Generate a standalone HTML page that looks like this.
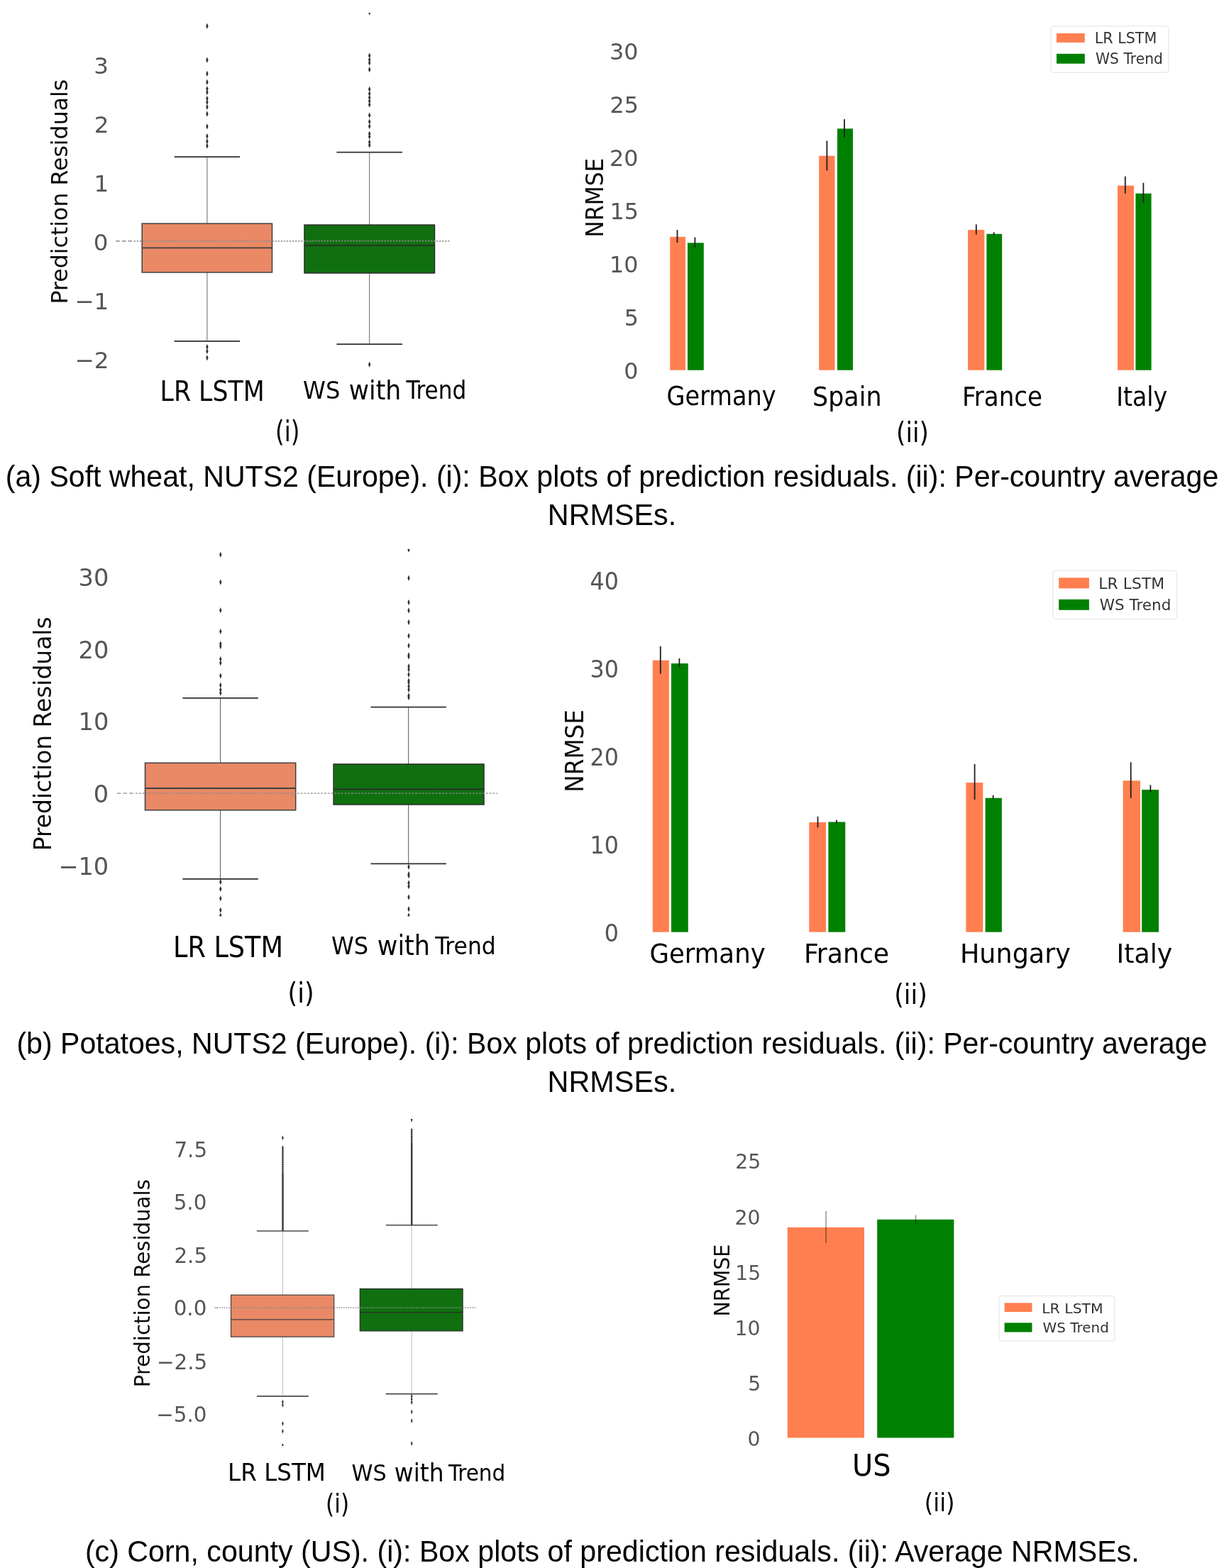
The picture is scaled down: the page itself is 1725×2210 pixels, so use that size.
<!DOCTYPE html>
<html><head><meta charset="utf-8"><title>Figure</title>
<style>
html,body{margin:0;padding:0;background:#fff;}
body{width:1725px;height:2210px;overflow:hidden;}
svg{display:block;}
</style></head><body>
<svg width="1725" height="2210" viewBox="0 0 1725 2210">
<rect width="1725" height="2210" fill="#fff"/>
<defs>
<clipPath id="ca"><rect x="150" y="17.9" width="500" height="501"/></clipPath>
<clipPath id="cb"><rect x="150" y="773.8" width="560" height="517.7"/></clipPath>
<clipPath id="cc"><rect x="290" y="1577" width="400" height="461"/></clipPath>
</defs>
<text x="132.30" y="104.00" font-family='"DejaVu Sans", sans-serif' font-size="32.60" fill="#555555">3</text>
<text x="132.80" y="186.90" font-family='"DejaVu Sans", sans-serif' font-size="32.60" fill="#555555">2</text>
<text x="132.55" y="269.80" font-family='"DejaVu Sans", sans-serif' font-size="32.60" fill="#555555">1</text>
<text x="131.80" y="352.70" font-family='"DejaVu Sans", sans-serif' font-size="32.60" fill="#555555">0</text>
<text x="105.30" y="435.60" font-family='"DejaVu Sans", sans-serif' font-size="32.60" fill="#555555">−1</text>
<text x="105.55" y="518.50" font-family='"DejaVu Sans", sans-serif' font-size="32.60" fill="#555555">−2</text>
<text transform="translate(94.60 428.48) rotate(-90)" x="0" y="0" font-family='"DejaVu Sans", sans-serif' font-size="31.80" fill="#0a0a0a" textLength="316.72" lengthAdjust="spacingAndGlyphs">Prediction Residuals</text>
<line x1="291.90" y1="221.10" x2="291.90" y2="315.10" stroke="#666" stroke-width="1.00"/>
<line x1="291.90" y1="383.90" x2="291.90" y2="480.90" stroke="#666" stroke-width="1.00"/>
<line x1="245.70" y1="221.10" x2="338.10" y2="221.10" stroke="#2e2e2e" stroke-width="1.80"/>
<line x1="245.70" y1="480.90" x2="338.10" y2="480.90" stroke="#2e2e2e" stroke-width="1.80"/>
<line x1="520.70" y1="214.70" x2="520.70" y2="317.00" stroke="#666" stroke-width="1.00"/>
<line x1="520.70" y1="384.90" x2="520.70" y2="485.10" stroke="#666" stroke-width="1.00"/>
<line x1="474.40" y1="214.70" x2="567.00" y2="214.70" stroke="#2e2e2e" stroke-width="1.80"/>
<line x1="474.40" y1="485.10" x2="567.00" y2="485.10" stroke="#2e2e2e" stroke-width="1.80"/>
<rect x="200.20" y="315.10" width="183.30" height="68.80" fill="#e98966" stroke="#3f3f3f" stroke-width="1.50"/>
<line x1="200.20" y1="349.30" x2="383.50" y2="349.30" stroke="#3f3f3f" stroke-width="1.80"/>
<rect x="429.00" y="317.00" width="183.50" height="67.90" fill="#107010" stroke="#2b2b2b" stroke-width="1.50"/>
<line x1="429.00" y1="345.90" x2="612.50" y2="345.90" stroke="#2b2b2b" stroke-width="1.80"/>
<path d="M291.90 32.55L293.60 36.80L291.90 41.05L290.20 36.80ZM291.90 80.15L293.60 84.40L291.90 88.65L290.20 84.40ZM291.90 99.45L293.60 103.70L291.90 107.95L290.20 103.70ZM291.90 111.45L293.60 115.70L291.90 119.95L290.20 115.70ZM291.90 121.05L293.60 125.30L291.90 129.55L290.20 125.30ZM291.90 125.85L293.60 130.10L291.90 134.35L290.20 130.10ZM291.90 134.75L293.60 139.00L291.90 143.25L290.20 139.00ZM291.90 139.75L293.60 144.00L291.90 148.25L290.20 144.00ZM291.90 146.55L293.60 150.80L291.90 155.05L290.20 150.80ZM291.90 156.15L293.60 160.40L291.90 164.65L290.20 160.40ZM291.90 173.95L293.60 178.20L291.90 182.45L290.20 178.20ZM291.90 187.85L293.60 192.10L291.90 196.35L290.20 192.10ZM291.90 195.05L293.60 199.30L291.90 203.55L290.20 199.30ZM291.90 201.35L293.60 205.60L291.90 209.85L290.20 205.60ZM291.90 484.65L293.60 488.90L291.90 493.15L290.20 488.90ZM291.90 490.65L293.60 494.90L291.90 499.15L290.20 494.90ZM291.90 500.05L293.60 504.30L291.90 508.55L290.20 504.30Z" fill="#333" clip-path="url(#ca)"/>
<path d="M520.70 13.25L522.40 17.50L520.70 21.75L519.00 17.50ZM520.70 74.15L522.40 78.40L520.70 82.65L519.00 78.40ZM520.70 79.95L522.40 84.20L520.70 88.45L519.00 84.20ZM520.70 84.15L522.40 88.40L520.70 92.65L519.00 88.40ZM520.70 93.65L522.40 97.90L520.70 102.15L519.00 97.90ZM520.70 121.55L522.40 125.80L520.70 130.05L519.00 125.80ZM520.70 127.85L522.40 132.10L520.70 136.35L519.00 132.10ZM520.70 133.15L522.40 137.40L520.70 141.65L519.00 137.40ZM520.70 138.35L522.40 142.60L520.70 146.85L519.00 142.60ZM520.70 143.15L522.40 147.40L520.70 151.65L519.00 147.40ZM520.70 158.35L522.40 162.60L520.70 166.85L519.00 162.60ZM520.70 167.35L522.40 171.60L520.70 175.85L519.00 171.60ZM520.70 173.65L522.40 177.90L520.70 182.15L519.00 177.90ZM520.70 184.15L522.40 188.40L520.70 192.65L519.00 188.40ZM520.70 188.35L522.40 192.60L520.70 196.85L519.00 192.60ZM520.70 196.35L522.40 200.60L520.70 204.85L519.00 200.60ZM520.70 200.25L522.40 204.50L520.70 208.75L519.00 204.50ZM520.70 509.55L522.40 513.80L520.70 518.05L519.00 513.80Z" fill="#333" clip-path="url(#ca)"/>
<line x1="163.10" y1="339.70" x2="188.60" y2="339.70" stroke="#8c8c8c" stroke-width="1.45" stroke-dasharray="5.80 2.80"/>
<line x1="188.60" y1="339.70" x2="635.00" y2="339.70" stroke="#8c8c8c" stroke-width="1.45" stroke-dasharray="2.40 1.66"/>
<text x="225.54" y="565.10" font-family='"DejaVu Sans Condensed", "DejaVu Sans", sans-serif' font-size="38.45" fill="#000" style="font-stretch:condensed;" textLength="147.20" lengthAdjust="spacingAndGlyphs">LR LSTM</text>
<text x="427.05" y="561.80" font-family='"DejaVu Sans Condensed", "DejaVu Sans", sans-serif' font-size="34.15" fill="#000" style="font-stretch:condensed;" textLength="52.31" lengthAdjust="spacingAndGlyphs">WS</text>
<text x="491.78" y="562.80" font-family='"DejaVu Sans Condensed", "DejaVu Sans", sans-serif' font-size="37.90" fill="#000" style="font-stretch:condensed;" textLength="73.49" lengthAdjust="spacingAndGlyphs">with</text>
<text x="572.50" y="561.80" font-family='"DejaVu Sans Condensed", "DejaVu Sans", sans-serif' font-size="34.62" fill="#000" style="font-stretch:condensed;" textLength="84.73" lengthAdjust="spacingAndGlyphs">Trend</text>
<text x="388.07" y="622.44" font-family='"DejaVu Sans Condensed", "DejaVu Sans", sans-serif' font-size="41.62" fill="#000" style="font-stretch:condensed;" textLength="34.46" lengthAdjust="spacingAndGlyphs">(i)</text>
<text x="859.05" y="84.10" font-family='"DejaVu Sans", sans-serif' font-size="31.80" fill="#555555">30</text>
<text x="859.55" y="159.00" font-family='"DejaVu Sans", sans-serif' font-size="31.80" fill="#555555">25</text>
<text x="859.05" y="233.90" font-family='"DejaVu Sans", sans-serif' font-size="31.80" fill="#555555">20</text>
<text x="859.55" y="308.80" font-family='"DejaVu Sans", sans-serif' font-size="31.80" fill="#555555">15</text>
<text x="859.05" y="383.70" font-family='"DejaVu Sans", sans-serif' font-size="31.80" fill="#555555">10</text>
<text x="879.80" y="458.60" font-family='"DejaVu Sans", sans-serif' font-size="31.80" fill="#555555">5</text>
<text x="879.30" y="533.50" font-family='"DejaVu Sans", sans-serif' font-size="31.80" fill="#555555">0</text>
<text transform="translate(850.40 334.54) rotate(-90)" x="0" y="0" font-family='"DejaVu Sans", sans-serif' font-size="33.50" fill="#0a0a0a" textLength="111.87" lengthAdjust="spacingAndGlyphs">NRMSE</text>
<rect x="944.20" y="333.80" width="21.80" height="187.90" fill="#ff7f50"/>
<rect x="969.00" y="342.30" width="22.80" height="179.40" fill="#008000"/>
<rect x="1154.20" y="219.60" width="22.30" height="302.10" fill="#ff7f50"/>
<rect x="1180.00" y="181.30" width="22.00" height="340.40" fill="#008000"/>
<rect x="1364.10" y="324.00" width="23.20" height="197.70" fill="#ff7f50"/>
<rect x="1390.40" y="329.70" width="21.80" height="192.00" fill="#008000"/>
<rect x="1575.00" y="261.60" width="23.00" height="260.10" fill="#ff7f50"/>
<rect x="1600.40" y="272.70" width="22.20" height="249.00" fill="#008000"/>
<line x1="954.50" y1="324.00" x2="954.50" y2="342.00" stroke="#1f1f1f" stroke-width="1.80"/>
<line x1="979.40" y1="334.50" x2="979.40" y2="349.00" stroke="#1f1f1f" stroke-width="1.80"/>
<line x1="1165.40" y1="198.40" x2="1165.40" y2="240.40" stroke="#1f1f1f" stroke-width="1.80"/>
<line x1="1190.00" y1="168.00" x2="1190.00" y2="193.80" stroke="#1f1f1f" stroke-width="1.80"/>
<line x1="1375.80" y1="316.30" x2="1375.80" y2="330.40" stroke="#1f1f1f" stroke-width="1.80"/>
<line x1="1400.70" y1="327.30" x2="1400.70" y2="331.50" stroke="#1f1f1f" stroke-width="1.80"/>
<line x1="1585.80" y1="248.70" x2="1585.80" y2="272.70" stroke="#1f1f1f" stroke-width="1.80"/>
<line x1="1611.40" y1="257.70" x2="1611.40" y2="285.60" stroke="#1f1f1f" stroke-width="1.80"/>
<text x="939.64" y="571.20" font-family='"DejaVu Sans Condensed", "DejaVu Sans", sans-serif' font-size="37.00" fill="#000" style="font-stretch:condensed;" textLength="154.01" lengthAdjust="spacingAndGlyphs">Germany</text>
<text x="1145.04" y="572.10" font-family='"DejaVu Sans Condensed", "DejaVu Sans", sans-serif' font-size="37.00" fill="#000" style="font-stretch:condensed;" textLength="97.46" lengthAdjust="spacingAndGlyphs">Spain</text>
<text x="1355.97" y="572.10" font-family='"DejaVu Sans Condensed", "DejaVu Sans", sans-serif' font-size="37.00" fill="#000" style="font-stretch:condensed;" textLength="113.04" lengthAdjust="spacingAndGlyphs">France</text>
<text x="1573.15" y="572.10" font-family='"DejaVu Sans Condensed", "DejaVu Sans", sans-serif' font-size="37.00" fill="#000" style="font-stretch:condensed;" textLength="72.09" lengthAdjust="spacingAndGlyphs">Italy</text>
<text x="1263.11" y="623.23" font-family='"DejaVu Sans Condensed", "DejaVu Sans", sans-serif' font-size="39.38" fill="#000" style="font-stretch:condensed;" textLength="45.82" lengthAdjust="spacingAndGlyphs">(ii)</text>
<rect x="1481.00" y="36.90" width="166.00" height="65.20" rx="4" ry="4" fill="#fff" stroke="#e8e8e8" stroke-width="1.3"/>
<rect x="1489.00" y="47.00" width="39.80" height="12.90" fill="#ff7f50"/>
<rect x="1489.00" y="75.80" width="39.80" height="13.90" fill="#008000"/>
<text x="1542.78" y="61.00" font-family='"DejaVu Sans", sans-serif' font-size="20.40" fill="#333333" textLength="87.56" lengthAdjust="spacingAndGlyphs">LR LSTM</text>
<text x="1544.06" y="89.70" font-family='"DejaVu Sans", sans-serif' font-size="20.40" fill="#333333" textLength="94.78" lengthAdjust="spacingAndGlyphs">WS Trend</text>
<text x="7.80" y="686.40" font-family='"Liberation Sans", Arial, sans-serif' font-size="42.80" fill="#000" textLength="1709.51" lengthAdjust="spacingAndGlyphs">(a) Soft wheat, NUTS2 (Europe). (i): Box plots of prediction residuals. (ii): Per-country average</text>
<text x="771.82" y="740.30" font-family='"Liberation Sans", Arial, sans-serif' font-size="42.80" fill="#000" textLength="181.44" lengthAdjust="spacingAndGlyphs">NRMSEs.</text>
<text x="110.55" y="826.10" font-family='"DejaVu Sans", sans-serif' font-size="33.60" fill="#555555">30</text>
<text x="110.55" y="927.70" font-family='"DejaVu Sans", sans-serif' font-size="33.60" fill="#555555">20</text>
<text x="110.55" y="1029.30" font-family='"DejaVu Sans", sans-serif' font-size="33.60" fill="#555555">10</text>
<text x="131.80" y="1130.90" font-family='"DejaVu Sans", sans-serif' font-size="33.60" fill="#555555">0</text>
<text x="82.30" y="1232.50" font-family='"DejaVu Sans", sans-serif' font-size="33.60" fill="#555555">−10</text>
<text transform="translate(72.30 1199.21) rotate(-90)" x="0" y="0" font-family='"DejaVu Sans", sans-serif' font-size="33.20" fill="#0a0a0a" textLength="329.79" lengthAdjust="spacingAndGlyphs">Prediction Residuals</text>
<line x1="310.60" y1="983.80" x2="310.60" y2="1075.30" stroke="#555" stroke-width="1.00"/>
<line x1="310.60" y1="1141.80" x2="310.60" y2="1238.90" stroke="#555" stroke-width="1.00"/>
<line x1="257.40" y1="983.80" x2="363.80" y2="983.80" stroke="#2e2e2e" stroke-width="1.80"/>
<line x1="257.40" y1="1238.90" x2="363.80" y2="1238.90" stroke="#2e2e2e" stroke-width="1.80"/>
<line x1="575.70" y1="996.70" x2="575.70" y2="1077.00" stroke="#555" stroke-width="1.00"/>
<line x1="575.70" y1="1134.00" x2="575.70" y2="1217.40" stroke="#555" stroke-width="1.00"/>
<line x1="522.50" y1="996.70" x2="628.90" y2="996.70" stroke="#2e2e2e" stroke-width="1.80"/>
<line x1="522.50" y1="1217.40" x2="628.90" y2="1217.40" stroke="#2e2e2e" stroke-width="1.80"/>
<rect x="204.50" y="1075.30" width="212.20" height="66.50" fill="#e98966" stroke="#3f3f3f" stroke-width="1.50"/>
<line x1="204.50" y1="1111.00" x2="416.70" y2="1111.00" stroke="#3f3f3f" stroke-width="1.80"/>
<rect x="470.10" y="1077.00" width="211.90" height="57.00" fill="#107010" stroke="#2b2b2b" stroke-width="1.50"/>
<line x1="470.10" y1="1112.30" x2="682.00" y2="1112.30" stroke="#2b2b2b" stroke-width="1.80"/>
<path d="M310.80 777.45L312.45 781.70L310.80 785.95L309.15 781.70ZM310.80 816.35L312.45 820.60L310.80 824.85L309.15 820.60ZM310.80 855.95L312.45 860.20L310.80 864.45L309.15 860.20ZM310.80 885.65L312.45 889.90L310.80 894.15L309.15 889.90ZM310.80 903.25L312.45 907.50L310.80 911.75L309.15 907.50ZM310.80 906.75L312.45 911.00L310.80 915.25L309.15 911.00ZM310.80 924.85L312.45 929.10L310.80 933.35L309.15 929.10ZM310.80 930.05L312.45 934.30L310.80 938.55L309.15 934.30ZM310.80 948.35L312.45 952.60L310.80 956.85L309.15 952.60ZM310.80 961.45L312.45 965.70L310.80 969.95L309.15 965.70ZM310.80 968.05L312.45 972.30L310.80 976.55L309.15 972.30ZM310.80 972.45L312.45 976.70L310.80 980.95L309.15 976.70ZM310.80 1238.75L312.45 1243.00L310.80 1247.25L309.15 1243.00ZM310.80 1248.85L312.45 1253.10L310.80 1257.35L309.15 1253.10ZM310.80 1262.05L312.45 1266.30L310.80 1270.55L309.15 1266.30ZM310.80 1278.55L312.45 1282.80L310.80 1287.05L309.15 1282.80ZM310.80 1286.35L312.45 1290.60L310.80 1294.85L309.15 1290.60Z" fill="#333" clip-path="url(#cb)"/>
<path d="M576.00 770.25L577.65 774.50L576.00 778.75L574.35 774.50ZM576.00 810.45L577.65 814.70L576.00 818.95L574.35 814.70ZM576.00 844.85L577.65 849.10L576.00 853.35L574.35 849.10ZM576.00 856.35L577.65 860.60L576.00 864.85L574.35 860.60ZM576.00 872.85L577.65 877.10L576.00 881.35L574.35 877.10ZM576.00 892.05L577.65 896.30L576.00 900.55L574.35 896.30ZM576.00 905.75L577.65 910.00L576.00 914.25L574.35 910.00ZM576.00 918.95L577.65 923.20L576.00 927.45L574.35 923.20ZM576.00 921.25L577.65 925.50L576.00 929.75L574.35 925.50ZM576.00 934.95L577.65 939.20L576.00 943.45L574.35 939.20ZM576.00 939.35L577.65 943.60L576.00 947.85L574.35 943.60ZM576.00 946.45L577.65 950.70L576.00 954.95L574.35 950.70ZM576.00 955.25L577.65 959.50L576.00 963.75L574.35 959.50ZM576.00 957.45L577.65 961.70L576.00 965.95L574.35 961.70ZM576.00 962.95L577.65 967.20L576.00 971.45L574.35 967.20ZM576.00 967.85L577.65 972.10L576.00 976.35L574.35 972.10ZM576.00 976.15L577.65 980.40L576.00 984.65L574.35 980.40ZM576.00 978.85L577.65 983.10L576.00 987.35L574.35 983.10ZM576.00 1217.45L577.65 1221.70L576.00 1225.95L574.35 1221.70ZM576.00 1227.75L577.65 1232.00L576.00 1236.25L574.35 1232.00ZM576.00 1230.05L577.65 1234.30L576.00 1238.55L574.35 1234.30ZM576.00 1240.35L577.65 1244.60L576.00 1248.85L574.35 1244.60ZM576.00 1244.95L577.65 1249.20L576.00 1253.45L574.35 1249.20ZM576.00 1260.25L577.65 1264.50L576.00 1268.75L574.35 1264.50ZM576.00 1276.95L577.65 1281.20L576.00 1285.45L574.35 1281.20ZM576.00 1286.35L577.65 1290.60L576.00 1294.85L574.35 1290.60Z" fill="#333" clip-path="url(#cb)"/>
<line x1="164.70" y1="1118.10" x2="191.00" y2="1118.10" stroke="#8c8c8c" stroke-width="1.45" stroke-dasharray="5.60 3.20"/>
<line x1="191.00" y1="1118.10" x2="701.30" y2="1118.10" stroke="#8c8c8c" stroke-width="1.45" stroke-dasharray="2.90 1.85"/>
<text x="244.06" y="1349.20" font-family='"DejaVu Sans Condensed", "DejaVu Sans", sans-serif' font-size="40.34" fill="#000" style="font-stretch:condensed;" textLength="154.96" lengthAdjust="spacingAndGlyphs">LR LSTM</text>
<text x="467.05" y="1345.20" font-family='"DejaVu Sans Condensed", "DejaVu Sans", sans-serif' font-size="33.88" fill="#000" style="font-stretch:condensed;" textLength="52.21" lengthAdjust="spacingAndGlyphs">WS</text>
<text x="531.78" y="1346.40" font-family='"DejaVu Sans Condensed", "DejaVu Sans", sans-serif' font-size="38.56" fill="#000" style="font-stretch:condensed;" textLength="74.23" lengthAdjust="spacingAndGlyphs">with</text>
<text x="613.20" y="1345.20" font-family='"DejaVu Sans Condensed", "DejaVu Sans", sans-serif' font-size="34.36" fill="#000" style="font-stretch:condensed;" textLength="85.71" lengthAdjust="spacingAndGlyphs">Trend</text>
<text x="405.46" y="1412.63" font-family='"DejaVu Sans Condensed", "DejaVu Sans", sans-serif' font-size="38.60" fill="#000" style="font-stretch:condensed;" textLength="37.19" lengthAdjust="spacingAndGlyphs">(i)</text>
<text x="831.56" y="830.60" font-family='"DejaVu Sans", sans-serif' font-size="33.00" fill="#555555" textLength="40.40" lengthAdjust="spacingAndGlyphs">40</text>
<text x="831.56" y="954.60" font-family='"DejaVu Sans", sans-serif' font-size="33.00" fill="#555555" textLength="40.40" lengthAdjust="spacingAndGlyphs">30</text>
<text x="831.56" y="1078.60" font-family='"DejaVu Sans", sans-serif' font-size="33.00" fill="#555555" textLength="40.40" lengthAdjust="spacingAndGlyphs">20</text>
<text x="831.56" y="1202.60" font-family='"DejaVu Sans", sans-serif' font-size="33.00" fill="#555555" textLength="40.40" lengthAdjust="spacingAndGlyphs">10</text>
<text x="851.76" y="1326.60" font-family='"DejaVu Sans", sans-serif' font-size="33.00" fill="#555555" textLength="20.20" lengthAdjust="spacingAndGlyphs">0</text>
<text transform="translate(821.60 1116.80) rotate(-90)" x="0" y="0" font-family='"DejaVu Sans", sans-serif' font-size="35.80" fill="#0a0a0a" textLength="116.85" lengthAdjust="spacingAndGlyphs">NRMSE</text>
<rect x="919.80" y="930.70" width="23.10" height="383.00" fill="#ff7f50"/>
<rect x="946.00" y="935.10" width="23.80" height="378.60" fill="#008000"/>
<rect x="1140.30" y="1159.00" width="23.80" height="154.70" fill="#ff7f50"/>
<rect x="1167.40" y="1158.50" width="23.90" height="155.20" fill="#008000"/>
<rect x="1361.40" y="1103.10" width="23.90" height="210.60" fill="#ff7f50"/>
<rect x="1388.60" y="1124.70" width="23.30" height="189.00" fill="#008000"/>
<rect x="1582.60" y="1100.30" width="24.40" height="213.40" fill="#ff7f50"/>
<rect x="1609.20" y="1113.10" width="23.80" height="200.60" fill="#008000"/>
<line x1="930.80" y1="910.80" x2="930.80" y2="949.60" stroke="#1f1f1f" stroke-width="1.80"/>
<line x1="957.40" y1="928.00" x2="957.40" y2="940.10" stroke="#1f1f1f" stroke-width="1.80"/>
<line x1="1152.50" y1="1150.80" x2="1152.50" y2="1166.30" stroke="#1f1f1f" stroke-width="1.80"/>
<line x1="1179.00" y1="1155.70" x2="1179.00" y2="1160.20" stroke="#1f1f1f" stroke-width="1.80"/>
<line x1="1373.60" y1="1077.00" x2="1373.60" y2="1127.00" stroke="#1f1f1f" stroke-width="1.80"/>
<line x1="1399.70" y1="1120.80" x2="1399.70" y2="1125.80" stroke="#1f1f1f" stroke-width="1.80"/>
<line x1="1593.70" y1="1074.30" x2="1593.70" y2="1124.70" stroke="#1f1f1f" stroke-width="1.80"/>
<line x1="1621.40" y1="1106.40" x2="1621.40" y2="1117.00" stroke="#1f1f1f" stroke-width="1.80"/>
<text x="915.42" y="1357.00" font-family='"DejaVu Sans Condensed", "DejaVu Sans", sans-serif' font-size="38.00" fill="#000" style="font-stretch:condensed;" textLength="163.29" lengthAdjust="spacingAndGlyphs">Germany</text>
<text x="1132.96" y="1357.00" font-family='"DejaVu Sans Condensed", "DejaVu Sans", sans-serif' font-size="38.00" fill="#000" style="font-stretch:condensed;" textLength="120.17" lengthAdjust="spacingAndGlyphs">France</text>
<text x="1352.93" y="1357.00" font-family='"DejaVu Sans Condensed", "DejaVu Sans", sans-serif' font-size="38.00" fill="#000" style="font-stretch:condensed;" textLength="155.83" lengthAdjust="spacingAndGlyphs">Hungary</text>
<text x="1573.55" y="1357.00" font-family='"DejaVu Sans Condensed", "DejaVu Sans", sans-serif' font-size="38.00" fill="#000" style="font-stretch:condensed;" textLength="78.70" lengthAdjust="spacingAndGlyphs">Italy</text>
<text x="1260.28" y="1414.55" font-family='"DejaVu Sans Condensed", "DejaVu Sans", sans-serif' font-size="38.49" fill="#000" style="font-stretch:condensed;" textLength="46.57" lengthAdjust="spacingAndGlyphs">(ii)</text>
<rect x="1483.90" y="804.30" width="174.60" height="68.20" rx="4" ry="4" fill="#fff" stroke="#e8e8e8" stroke-width="1.3"/>
<rect x="1492.20" y="814.30" width="42.70" height="15.00" fill="#ff7f50"/>
<rect x="1492.20" y="844.80" width="42.70" height="15.00" fill="#008000"/>
<text x="1548.36" y="830.00" font-family='"DejaVu Sans", sans-serif' font-size="21.60" fill="#333333" textLength="92.84" lengthAdjust="spacingAndGlyphs">LR LSTM</text>
<text x="1549.65" y="860.00" font-family='"DejaVu Sans", sans-serif' font-size="21.60" fill="#333333" textLength="100.68" lengthAdjust="spacingAndGlyphs">WS Trend</text>
<text x="23.40" y="1484.60" font-family='"Liberation Sans", Arial, sans-serif' font-size="42.80" fill="#000" textLength="1678.01" lengthAdjust="spacingAndGlyphs">(b) Potatoes, NUTS2 (Europe). (i): Box plots of prediction residuals. (ii): Per-country average</text>
<text x="771.51" y="1538.80" font-family='"Liberation Sans", Arial, sans-serif' font-size="42.80" fill="#000" textLength="181.76" lengthAdjust="spacingAndGlyphs">NRMSEs.</text>
<text x="245.43" y="1631.00" font-family='"DejaVu Sans", sans-serif' font-size="29.80" fill="#555555" textLength="46.70" lengthAdjust="spacingAndGlyphs">7.5</text>
<text x="244.69" y="1704.60" font-family='"DejaVu Sans", sans-serif' font-size="29.80" fill="#555555" textLength="46.70" lengthAdjust="spacingAndGlyphs">5.0</text>
<text x="245.43" y="1779.60" font-family='"DejaVu Sans", sans-serif' font-size="29.80" fill="#555555" textLength="46.70" lengthAdjust="spacingAndGlyphs">2.5</text>
<text x="244.69" y="1854.40" font-family='"DejaVu Sans", sans-serif' font-size="29.80" fill="#555555" textLength="46.70" lengthAdjust="spacingAndGlyphs">0.0</text>
<text x="221.00" y="1929.50" font-family='"DejaVu Sans", sans-serif' font-size="29.80" fill="#555555" textLength="71.30" lengthAdjust="spacingAndGlyphs">−2.5</text>
<text x="220.26" y="2004.30" font-family='"DejaVu Sans", sans-serif' font-size="29.80" fill="#555555" textLength="71.30" lengthAdjust="spacingAndGlyphs">−5.0</text>
<text transform="translate(210.60 1955.22) rotate(-90)" x="0" y="0" font-family='"DejaVu Sans", sans-serif' font-size="29.50" fill="#0a0a0a" textLength="293.09" lengthAdjust="spacingAndGlyphs">Prediction Residuals</text>
<line x1="398.40" y1="1735.00" x2="398.40" y2="1825.20" stroke="#bdbdbd" stroke-width="1.00"/>
<line x1="398.40" y1="1884.20" x2="398.40" y2="1967.90" stroke="#bdbdbd" stroke-width="1.00"/>
<line x1="361.90" y1="1735.00" x2="434.90" y2="1735.00" stroke="#4a4a4a" stroke-width="1.60"/>
<line x1="361.90" y1="1967.90" x2="434.90" y2="1967.90" stroke="#4a4a4a" stroke-width="1.60"/>
<line x1="580.20" y1="1726.70" x2="580.20" y2="1816.50" stroke="#bdbdbd" stroke-width="1.00"/>
<line x1="580.20" y1="1875.90" x2="580.20" y2="1964.60" stroke="#bdbdbd" stroke-width="1.00"/>
<line x1="543.70" y1="1726.70" x2="616.70" y2="1726.70" stroke="#4a4a4a" stroke-width="1.60"/>
<line x1="543.70" y1="1964.60" x2="616.70" y2="1964.60" stroke="#4a4a4a" stroke-width="1.60"/>
<rect x="325.50" y="1825.20" width="145.20" height="59.00" fill="#e98966" stroke="#3f3f3f" stroke-width="1.20"/>
<line x1="325.50" y1="1859.90" x2="470.70" y2="1859.90" stroke="#3f3f3f" stroke-width="1.44"/>
<rect x="507.30" y="1816.50" width="144.80" height="59.40" fill="#107010" stroke="#2b2b2b" stroke-width="1.20"/>
<line x1="507.30" y1="1849.60" x2="652.10" y2="1849.60" stroke="#2b2b2b" stroke-width="1.44"/>
<path d="M398.50 1614.25L399.90 1617.50L398.50 1620.75L397.10 1617.50ZM398.50 1617.25L399.90 1620.50L398.50 1623.75L397.10 1620.50ZM398.50 1620.25L399.90 1623.50L398.50 1626.75L397.10 1623.50ZM398.50 1623.25L399.90 1626.50L398.50 1629.75L397.10 1626.50ZM398.50 1626.25L399.90 1629.50L398.50 1632.75L397.10 1629.50ZM398.50 1629.25L399.90 1632.50L398.50 1635.75L397.10 1632.50ZM398.50 1632.25L399.90 1635.50L398.50 1638.75L397.10 1635.50ZM398.50 1635.25L399.90 1638.50L398.50 1641.75L397.10 1638.50ZM398.50 1638.25L399.90 1641.50L398.50 1644.75L397.10 1641.50ZM398.50 1641.25L399.90 1644.50L398.50 1647.75L397.10 1644.50ZM398.50 1644.25L399.90 1647.50L398.50 1650.75L397.10 1647.50ZM398.50 1647.25L399.90 1650.50L398.50 1653.75L397.10 1650.50ZM398.50 1650.25L399.90 1653.50L398.50 1656.75L397.10 1653.50Z" fill="#383838"/>
<rect x="397.30" y="1654.50" width="2.40" height="80.50" fill="#383838"/>
<path d="M580.20 1589.75L581.60 1593.00L580.20 1596.25L578.80 1593.00ZM580.20 1592.75L581.60 1596.00L580.20 1599.25L578.80 1596.00ZM580.20 1595.75L581.60 1599.00L580.20 1602.25L578.80 1599.00ZM580.20 1598.75L581.60 1602.00L580.20 1605.25L578.80 1602.00ZM580.20 1601.75L581.60 1605.00L580.20 1608.25L578.80 1605.00ZM580.20 1604.75L581.60 1608.00L580.20 1611.25L578.80 1608.00ZM580.20 1607.75L581.60 1611.00L580.20 1614.25L578.80 1611.00Z" fill="#383838"/>
<rect x="579.00" y="1612.00" width="2.40" height="114.70" fill="#383838"/>
<path d="M398.40 1600.30L399.70 1603.80L398.40 1607.30L397.10 1603.80ZM398.40 1972.60L399.70 1976.10L398.40 1979.60L397.10 1976.10ZM398.40 1976.70L399.70 1980.20L398.40 1983.70L397.10 1980.20ZM398.40 2003.00L399.70 2006.50L398.40 2010.00L397.10 2006.50ZM398.40 2013.70L399.70 2017.20L398.40 2020.70L397.10 2017.20ZM398.40 2034.00L399.70 2037.50L398.40 2041.00L397.10 2037.50Z" fill="#333" clip-path="url(#cc)"/>
<path d="M580.20 1574.70L581.50 1578.20L580.20 1581.70L578.90 1578.20ZM580.20 1964.50L581.50 1968.00L580.20 1971.50L578.90 1968.00ZM580.20 1968.50L581.50 1972.00L580.20 1975.50L578.90 1972.00ZM580.20 1973.00L581.50 1976.50L580.20 1980.00L578.90 1976.50ZM580.20 1986.60L581.50 1990.10L580.20 1993.60L578.90 1990.10ZM580.20 1998.90L581.50 2002.40L580.20 2005.90L578.90 2002.40ZM580.20 2030.90L581.50 2034.40L580.20 2037.90L578.90 2034.40Z" fill="#333" clip-path="url(#cc)"/>
<line x1="302.60" y1="1843.10" x2="309.00" y2="1843.10" stroke="#8a8a8a" stroke-width="1.25" stroke-dasharray="4.80 1.70"/>
<line x1="309.00" y1="1843.10" x2="670.80" y2="1843.10" stroke="#8a8a8a" stroke-width="1.25" stroke-dasharray="1.90 1.40"/>
<text x="321.14" y="2087.20" font-family='"DejaVu Sans Condensed", "DejaVu Sans", sans-serif' font-size="33.21" fill="#000" style="font-stretch:condensed;" textLength="137.84" lengthAdjust="spacingAndGlyphs">LR LSTM</text>
<text x="495.54" y="2087.30" font-family='"DejaVu Sans Condensed", "DejaVu Sans", sans-serif' font-size="31.73" fill="#000" style="font-stretch:condensed;" textLength="49.09" lengthAdjust="spacingAndGlyphs">WS</text>
<text x="555.80" y="2088.30" font-family='"DejaVu Sans Condensed", "DejaVu Sans", sans-serif' font-size="35.15" fill="#000" style="font-stretch:condensed;" textLength="69.72" lengthAdjust="spacingAndGlyphs">with</text>
<text x="632.00" y="2087.30" font-family='"DejaVu Sans Condensed", "DejaVu Sans", sans-serif' font-size="32.26" fill="#000" style="font-stretch:condensed;" textLength="80.37" lengthAdjust="spacingAndGlyphs">Trend</text>
<text x="459.11" y="2131.58" font-family='"DejaVu Sans Condensed", "DejaVu Sans", sans-serif' font-size="36.70" fill="#000" style="font-stretch:condensed;" textLength="33.02" lengthAdjust="spacingAndGlyphs">(i)</text>
<text x="1036.21" y="1647.40" font-family='"DejaVu Sans", sans-serif' font-size="28.80" fill="#555555" textLength="36.04" lengthAdjust="spacingAndGlyphs">25</text>
<text x="1035.47" y="1725.60" font-family='"DejaVu Sans", sans-serif' font-size="28.80" fill="#555555" textLength="36.04" lengthAdjust="spacingAndGlyphs">20</text>
<text x="1036.21" y="1803.80" font-family='"DejaVu Sans", sans-serif' font-size="28.80" fill="#555555" textLength="36.04" lengthAdjust="spacingAndGlyphs">15</text>
<text x="1035.47" y="1882.00" font-family='"DejaVu Sans", sans-serif' font-size="28.80" fill="#555555" textLength="36.04" lengthAdjust="spacingAndGlyphs">10</text>
<text x="1054.19" y="1960.20" font-family='"DejaVu Sans", sans-serif' font-size="28.80" fill="#555555" textLength="18.02" lengthAdjust="spacingAndGlyphs">5</text>
<text x="1053.45" y="2038.40" font-family='"DejaVu Sans", sans-serif' font-size="28.80" fill="#555555" textLength="18.02" lengthAdjust="spacingAndGlyphs">0</text>
<text transform="translate(1028.00 1855.46) rotate(-90)" x="0" y="0" font-family='"DejaVu Sans", sans-serif' font-size="30.90" fill="#0a0a0a" textLength="101.76" lengthAdjust="spacingAndGlyphs">NRMSE</text>
<rect x="1109.80" y="1729.90" width="108.20" height="296.60" fill="#ff7f50"/>
<rect x="1236.20" y="1718.80" width="108.20" height="307.70" fill="#008000"/>
<line x1="1164.10" y1="1706.90" x2="1164.10" y2="1752.10" stroke="rgba(0,0,0,0.4)" stroke-width="1.60"/>
<line x1="1290.50" y1="1712.40" x2="1290.50" y2="1724.80" stroke="rgba(0,0,0,0.4)" stroke-width="1.60"/>
<text x="1200.97" y="2080.00" font-family='"DejaVu Sans Condensed", "DejaVu Sans", sans-serif' font-size="42.00" fill="#000" style="font-stretch:condensed;" textLength="54.55" lengthAdjust="spacingAndGlyphs">US</text>
<text x="1302.72" y="2129.86" font-family='"DejaVu Sans Condensed", "DejaVu Sans", sans-serif' font-size="35.36" fill="#000" style="font-stretch:condensed;" textLength="42.83" lengthAdjust="spacingAndGlyphs">(ii)</text>
<rect x="1408.00" y="1826.50" width="162.90" height="63.70" rx="4" ry="4" fill="#fff" stroke="#e8e8e8" stroke-width="1.3"/>
<rect x="1415.60" y="1836.40" width="38.90" height="12.70" fill="#ff7f50"/>
<rect x="1415.60" y="1864.40" width="38.90" height="13.10" fill="#008000"/>
<text x="1468.18" y="1850.50" font-family='"DejaVu Sans", sans-serif' font-size="20.30" fill="#333333" textLength="86.56" lengthAdjust="spacingAndGlyphs">LR LSTM</text>
<text x="1469.46" y="1878.00" font-family='"DejaVu Sans", sans-serif' font-size="20.30" fill="#333333" textLength="93.35" lengthAdjust="spacingAndGlyphs">WS Trend</text>
<text x="119.89" y="2201.20" font-family='"Liberation Sans", Arial, sans-serif' font-size="42.80" fill="#000" textLength="1485.82" lengthAdjust="spacingAndGlyphs">(c) Corn, county (US). (i): Box plots of prediction residuals. (ii): Average NRMSEs.</text>
</svg>
</body></html>
